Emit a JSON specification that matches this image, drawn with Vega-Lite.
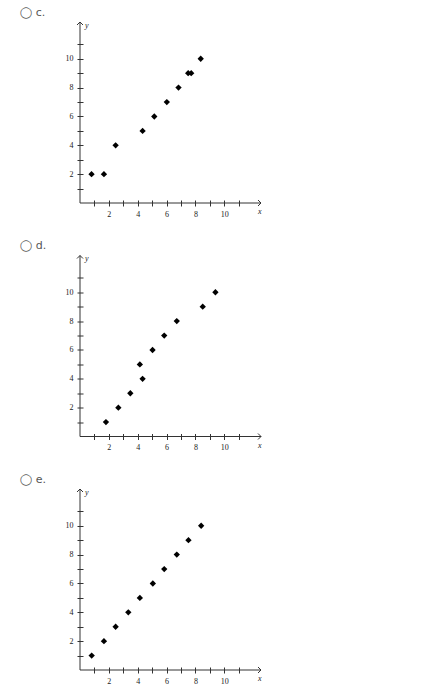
{
  "$schema": "https://vega.github.io/schema/vega-lite/v6.json",
  "background": "white",
  "padding": {"left": 20, "top": 6, "right": 5, "bottom": 5},
  "bounds": "flush",
  "spacing": 52.5,
  "datasets": {
    "c": [
      {"x": 0.8, "y": 2}, {"x": 1.66, "y": 2}, {"x": 2.47, "y": 4}, {"x": 4.34, "y": 5},
      {"x": 5.15, "y": 6}, {"x": 6.02, "y": 7}, {"x": 6.83, "y": 8}, {"x": 7.5, "y": 9},
      {"x": 7.71, "y": 9}, {"x": 8.37, "y": 10}
    ],
    "d": [
      {"x": 1.8, "y": 1}, {"x": 2.66, "y": 2}, {"x": 3.49, "y": 3}, {"x": 4.15, "y": 5},
      {"x": 4.34, "y": 4}, {"x": 5.03, "y": 6}, {"x": 5.84, "y": 7}, {"x": 6.71, "y": 8},
      {"x": 8.51, "y": 9}, {"x": 9.39, "y": 10}
    ],
    "e": [
      {"x": 0.81, "y": 1}, {"x": 1.66, "y": 2}, {"x": 2.47, "y": 3}, {"x": 3.35, "y": 4},
      {"x": 4.15, "y": 5}, {"x": 5.05, "y": 6}, {"x": 5.84, "y": 7}, {"x": 6.71, "y": 8},
      {"x": 7.52, "y": 9}, {"x": 8.4, "y": 10}
    ]
  },
  "config": {
    "view": {"stroke": null},
    "axis": {
      "grid": false,
      "domain": false,
      "ticks": true,
      "tickSize": 6,
      "tickColor": "#333",
      "tickWidth": 1,
      "tickCount": 24,
      "offset": -3,
      "labelOverlap": false,
      "labelFont": "Liberation Serif",
      "labelFontSize": 8,
      "labelColor": "#222",
      "titleFont": "Liberation Serif",
      "titleFontStyle": "italic",
      "titleFontWeight": "normal",
      "titleFontSize": 8,
      "titleColor": "#222",
      "titleAngle": 0,
      "titleAlign": "center",
      "titleBaseline": "middle"
    },
    "axisX": {"labelPadding": 4, "titleX": 179.4, "titleY": 11.7},
    "axisY": {"labelPadding": 4, "titleX": 3.4, "titleY": 3.3},
    "title": {
      "anchor": "start",
      "frame": "group",
      "dx": -60,
      "font": "DejaVu Sans",
      "fontSize": 11,
      "fontWeight": "normal",
      "color": "#555",
      "offset": 2.5
    }
  },
  "vconcat": [
    {
      "title": "◯ c.",
      "width": 181,
      "height": 181,
      "layer": [
        {
          "data": {"name": "c"},
          "mark": {"type": "point", "shape": "diamond", "filled": true, "size": 40, "color": "black", "opacity": 1},
          "encoding": {
            "x": {"field": "x", "type": "quantitative", "scale": {"domain": [0, 12.55], "nice": false, "zero": true}, "title": "x", "axis": {"format": "d", "tickCount": 24, "values": [1, 2, 3, 4, 5, 6, 7, 8, 9, 10, 11], "labelExpr": "datum.value % 2 === 0 && datum.value > 0 && datum.value <= 10 ? datum.label : ''"}},
            "y": {"field": "y", "type": "quantitative", "scale": {"domain": [0, 12.55], "nice": false, "zero": true}, "title": "y", "axis": {"format": "d", "tickCount": 24, "values": [1, 2, 3, 4, 5, 6, 7, 8, 9, 10, 11], "labelExpr": "datum.value % 2 === 0 && datum.value > 0 && datum.value <= 10 ? datum.label : ''"}}
          }
        },
        {"data": {"values": [{}]}, "mark": {"type": "rule", "color": "#333", "strokeWidth": 1}, "encoding": {"y": {"datum": 0, "type": "quantitative", "title": "y"}}},
        {"data": {"values": [{}]}, "mark": {"type": "rule", "color": "#333", "strokeWidth": 1}, "encoding": {"x": {"datum": 0, "type": "quantitative", "title": "x"}}},
        {"data": {"values": [{}]}, "mark": {"type": "point", "shape": "M-1,-1L0,0L-1,1", "filled": false, "size": 36, "color": "#333", "strokeWidth": 1, "opacity": 1}, "encoding": {"x": {"datum": 12.55, "type": "quantitative", "title": "x"}, "y": {"datum": 0, "type": "quantitative", "title": "y"}}},
        {"data": {"values": [{}]}, "mark": {"type": "point", "shape": "M-1,1L0,0L1,1", "filled": false, "size": 36, "color": "#333", "strokeWidth": 1, "opacity": 1}, "encoding": {"x": {"datum": 0, "type": "quantitative", "title": "x"}, "y": {"datum": 12.55, "type": "quantitative", "title": "y"}}}
      ]
    },
    {
      "title": "◯ d.",
      "width": 181,
      "height": 181,
      "layer": [
        {
          "data": {"name": "d"},
          "mark": {"type": "point", "shape": "diamond", "filled": true, "size": 40, "color": "black", "opacity": 1},
          "encoding": {
            "x": {"field": "x", "type": "quantitative", "scale": {"domain": [0, 12.55], "nice": false, "zero": true}, "title": "x", "axis": {"format": "d", "tickCount": 24, "values": [1, 2, 3, 4, 5, 6, 7, 8, 9, 10, 11], "labelExpr": "datum.value % 2 === 0 && datum.value > 0 && datum.value <= 10 ? datum.label : ''"}},
            "y": {"field": "y", "type": "quantitative", "scale": {"domain": [0, 12.55], "nice": false, "zero": true}, "title": "y", "axis": {"format": "d", "tickCount": 24, "values": [1, 2, 3, 4, 5, 6, 7, 8, 9, 10, 11], "labelExpr": "datum.value % 2 === 0 && datum.value > 0 && datum.value <= 10 ? datum.label : ''"}}
          }
        },
        {"data": {"values": [{}]}, "mark": {"type": "rule", "color": "#333", "strokeWidth": 1}, "encoding": {"y": {"datum": 0, "type": "quantitative", "title": "y"}}},
        {"data": {"values": [{}]}, "mark": {"type": "rule", "color": "#333", "strokeWidth": 1}, "encoding": {"x": {"datum": 0, "type": "quantitative", "title": "x"}}},
        {"data": {"values": [{}]}, "mark": {"type": "point", "shape": "M-1,-1L0,0L-1,1", "filled": false, "size": 36, "color": "#333", "strokeWidth": 1, "opacity": 1}, "encoding": {"x": {"datum": 12.55, "type": "quantitative", "title": "x"}, "y": {"datum": 0, "type": "quantitative", "title": "y"}}},
        {"data": {"values": [{}]}, "mark": {"type": "point", "shape": "M-1,1L0,0L1,1", "filled": false, "size": 36, "color": "#333", "strokeWidth": 1, "opacity": 1}, "encoding": {"x": {"datum": 0, "type": "quantitative", "title": "x"}, "y": {"datum": 12.55, "type": "quantitative", "title": "y"}}}
      ]
    },
    {
      "title": "◯ e.",
      "width": 181,
      "height": 181,
      "layer": [
        {
          "data": {"name": "e"},
          "mark": {"type": "point", "shape": "diamond", "filled": true, "size": 40, "color": "black", "opacity": 1},
          "encoding": {
            "x": {"field": "x", "type": "quantitative", "scale": {"domain": [0, 12.55], "nice": false, "zero": true}, "title": "x", "axis": {"format": "d", "tickCount": 24, "values": [1, 2, 3, 4, 5, 6, 7, 8, 9, 10, 11], "labelExpr": "datum.value % 2 === 0 && datum.value > 0 && datum.value <= 10 ? datum.label : ''"}},
            "y": {"field": "y", "type": "quantitative", "scale": {"domain": [0, 12.55], "nice": false, "zero": true}, "title": "y", "axis": {"format": "d", "tickCount": 24, "values": [1, 2, 3, 4, 5, 6, 7, 8, 9, 10, 11], "labelExpr": "datum.value % 2 === 0 && datum.value > 0 && datum.value <= 10 ? datum.label : ''"}}
          }
        },
        {"data": {"values": [{}]}, "mark": {"type": "rule", "color": "#333", "strokeWidth": 1}, "encoding": {"y": {"datum": 0, "type": "quantitative", "title": "y"}}},
        {"data": {"values": [{}]}, "mark": {"type": "rule", "color": "#333", "strokeWidth": 1}, "encoding": {"x": {"datum": 0, "type": "quantitative", "title": "x"}}},
        {"data": {"values": [{}]}, "mark": {"type": "point", "shape": "M-1,-1L0,0L-1,1", "filled": false, "size": 36, "color": "#333", "strokeWidth": 1, "opacity": 1}, "encoding": {"x": {"datum": 12.55, "type": "quantitative", "title": "x"}, "y": {"datum": 0, "type": "quantitative", "title": "y"}}},
        {"data": {"values": [{}]}, "mark": {"type": "point", "shape": "M-1,1L0,0L1,1", "filled": false, "size": 36, "color": "#333", "strokeWidth": 1, "opacity": 1}, "encoding": {"x": {"datum": 0, "type": "quantitative", "title": "x"}, "y": {"datum": 12.55, "type": "quantitative", "title": "y"}}}
      ]
    }
  ]
}
